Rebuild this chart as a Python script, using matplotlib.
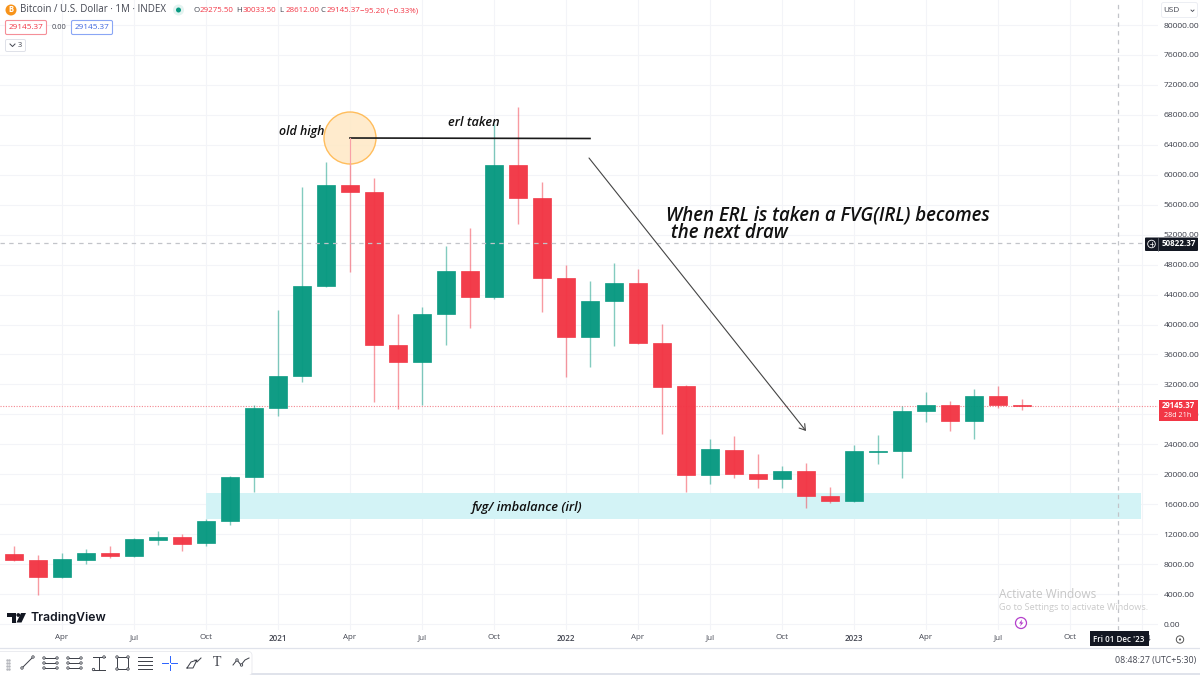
import matplotlib
matplotlib.use("Agg")
import matplotlib.pyplot as plt
from matplotlib.patches import Rectangle, Circle, FancyBboxPatch, Polygon, FancyArrowPatch

# ---------- data (monthly BTCUSD candles, Feb 2020 .. Aug 2023) ----------
months = ["2020-02","2020-03","2020-04","2020-05","2020-06","2020-07","2020-08","2020-09","2020-10","2020-11","2020-12",
          "2021-01","2021-02","2021-03","2021-04","2021-05","2021-06","2021-07","2021-08","2021-09","2021-10","2021-11","2021-12",
          "2022-01","2022-02","2022-03","2022-04","2022-05","2022-06","2022-07","2022-08","2022-09","2022-10","2022-11","2022-12",
          "2023-01","2023-02","2023-03","2023-04","2023-05","2023-06","2023-07","2023-08"]
opens = [9309,8508,6317,8548,9443,9082,11219,11620,10778,13757,19593,
         28889,33083,45143,58673,57698,37223,34993,41404,47107,43714,61264,56937,
         46172,38372,43180,45544,37530,31787,19860,23239,20074,19366,20475,17136,
         16428,23013,23106,28408,29250,27113,30412,29275.5]
closes = [8508,6317,8641,9443,9082,11313,11620,10685,13797,19633,28889,
          33083,45183,58673,57698,37223,34993,41404,47107,43714,61264,56937,46172,
          38372,43180,45544,37530,31694,19860,23333,19994,19366,20475,17096,16428,
          23066,23106,28408,29250,27113,30412,29209,29145.37]
highs = [10458,9216,9443,10017,10418,11486,12461,12060,14024,19807,29209,
         41938,58326,61705,64870,59528,41364,42339,50445,52850,66780,69010,59034,
         47948,45811,48215,47414,40068,31921,24669,25149,22705,21062,21463,18298,
         23867,25243,29156,30986,29824,31387,31828,30033.5]
lows = [8414,3873,6144,8014,8815,8908,10551,9790,10418,13222,17590,
        27821,32362,45050,46973,29610,28755,29250,37303,39534,43367,53464,41631,
        32949,34285,37130,37463,25376,17590,18738,19540,18164,18164,15493,16201,
        16361,21329,19540,26939,25817,24749,28889,28612]

price_ticks = list(range(0, 80001, 4000))
time_tick_index = [2,5,8,11,14,17,20,23,26,29,32,35,38,41,44,47]
time_tick_labels = ["Apr","Jul","Oct","2021","Apr","Jul","Oct","2022","Apr","Jul","Oct","2023","Apr","Jul","Oct","2024"]

last_price = 29145.37
cross_price = 50822.37
cross_index = 46
fvg_top, fvg_bottom = 17500, 14024
fvg_start = 8

GREEN, RED = "#089981", "#f23645"
GRID = "#f3f4f8"
TXT = "#434651"
FONT = "Open Sans"
plt.rcParams["font.family"] = [FONT, "DejaVu Sans"]

W, H = 1200, 675
fig = plt.figure(figsize=(12, 6.75), dpi=100, facecolor="white")
PANE_R, PANE_B = 1158, 630
ax = fig.add_axes([0, 1 - PANE_B / H, PANE_R / W, PANE_B / H])
ax.set_xlim(-14 / 24, (PANE_R - 14) / 24)
ax.set_ylim(-801, 83341)
for s in ax.spines.values():
    s.set_visible(False)
ax.yaxis.tick_right()
ax.set_yticks(price_ticks)
ax.set_yticklabels([f"{p:.2f}" for p in price_ticks], fontsize=6.1, color="#3c3f4a")
ax.set_xticks(time_tick_index)
ax.set_xticklabels(time_tick_labels, fontsize=5.8, color=TXT)
for lab, t in zip(ax.get_xticklabels(), time_tick_labels):
    if t.isdigit():
        lab.set_fontweight("semibold")
ax.tick_params(axis="both", length=0)
ax.tick_params(axis="y", pad=4.0)
ax.tick_params(axis="x", pad=3.0)
ax.grid(True, color=GRID, lw=0.8)
ax.set_axisbelow(True)

# FVG zone
ax.add_patch(Rectangle((fvg_start, fvg_bottom), (1141 - 206) / 24, fvg_top - fvg_bottom,
                       facecolor="#d3f3f6", edgecolor="none", zorder=1))
# current price and crosshair
ax.axhline(last_price, color="#f4868f", lw=0.8, ls=(0, (1, 1.4)), zorder=1.5)
ax.axhline(cross_price, color="#c2c4c9", lw=0.9, ls=(0, (3.5, 3.5)), zorder=5)
ax.axvline(cross_index, color="#c2c4c9", lw=0.9, ls=(0, (3.5, 3.5)), zorder=5)

# candles
for i, (o, c, h, l) in enumerate(zip(opens, closes, highs, lows)):
    col = GREEN if c >= o else RED
    ax.vlines(i, l, h, color=col, lw=1.0, alpha=0.5, zorder=2)
    low, high = min(o, c), max(o, c)
    ax.add_patch(Rectangle((i - 0.375, low), 0.75, max(high - low, 110), facecolor=col,
                           edgecolor=col, lw=0.5, alpha=0.97, zorder=3))

# overlay in pixel coordinates for drawings and interface chrome
ov = fig.add_axes([0, 0, 1, 1], facecolor="none")
ov.set_xlim(0, W)
ov.set_ylim(H, 0)
ov.axis("off")

# drawings
ov.add_patch(Circle((350, 138), 26, facecolor="#ffe9c8", edgecolor="#ffb74d", lw=1.0, alpha=0.9, zorder=2))
ov.plot([350, 590], [138, 138.5], color="#1a1a1a", lw=1.2, zorder=3)
ov.plot([350, 350], [138, 165], color="#f9a0a8", lw=0.8, zorder=3)
ov.add_patch(FancyArrowPatch((589, 158), (806, 431), arrowstyle="->,head_length=2.5,head_width=1.6",
                             color="#444444", lw=0.8, shrinkA=0, shrinkB=0, zorder=3, mutation_scale=1.6))
ANN = dict(family="Open Sans", style="italic", color="#111111", va="center", zorder=4, fontweight="semibold")
ov.text(279, 131, "old high", fontsize=8.9, **ANN)
ov.text(448, 123, "erl taken", fontsize=9.2, **ANN)
ov.text(666, 216, "When ERL is taken a FVG(IRL) becomes", fontsize=13.4, **ANN)
ov.text(666, 233, " the next draw", fontsize=13.4, **ANN)
ov.text(471, 507, "fvg/ imbalance (irl)", fontsize=9.3, **ANN)

# header
ov.add_patch(Circle((11, 10), 5.5, color="#f7931a", lw=0))
ov.text(11, 10, "B", fontsize=5.5, fontweight="bold", color="white", ha="center", va="center")
ov.text(19.5, 10, "Bitcoin / U.S. Dollar · 1M · INDEX", fontsize=7.0, color=TXT, va="center")
ov.add_patch(Circle((178.5, 10), 5.5, color="#e3f3f0", lw=0))
ov.add_patch(Circle((178.5, 10), 2.5, color=GREEN, lw=0))
x = 194
for key, val in [("O", "29275.50"), ("H", "30033.50"), ("L", "28612.00"), ("C", "29145.37")]:
    ov.text(x, 10.5, key, fontsize=5.7, color=TXT, va="center")
    ov.text(x + 6, 10.5, val, fontsize=5.7, color=RED, va="center")
    x += 42.5 if key == "O" else 43 if key == "H" else 41
ov.text(360, 10.5, "−95.20 (−0.33%)", fontsize=5.7, color=RED, va="center")
ov.text(59.5, 27.5, "0.00", fontsize=5.4, color=TXT, ha="center", va="center")
for bx, col in [(5.5, "#f58f98"), (71.5, "#8aa6f5")]:
    ov.add_patch(FancyBboxPatch((bx, 20.5), 41, 14, boxstyle="round,pad=0,rounding_size=1.5",
                                fc="white", ec=col, lw=0.8))
    ov.text(bx + 20.5, 27.8, "29145.37", fontsize=5.9, color=RED if bx < 10 else "#3f68e0",
            ha="center", va="center")
ov.add_patch(FancyBboxPatch((5.5, 39.5), 20, 12, boxstyle="round,pad=0,rounding_size=1.5",
                            fc="white", ec="#dfe1e8", lw=0.7))
ov.plot([10, 12.5, 15], [44, 46.5, 44], color=TXT, lw=0.7)
ov.text(20, 45.5, "3", fontsize=5.4, color=TXT, ha="center", va="center")
ov.add_patch(FancyBboxPatch((1161.5, 2.5), 36, 15, boxstyle="round,pad=0,rounding_size=2",
                            fc="white", ec="#eceef3", lw=0.7))
ov.text(1163.5, 10, "USD", fontsize=5.9, color=TXT, va="center")
ov.plot([1191, 1192.5, 1194], [10, 11.5, 10], color=TXT, lw=0.6)

# logo
ov.add_patch(Polygon([(7, 613), (16, 613), (16, 622.5), (11.5, 622.5), (11.5, 617), (7, 617)], color="#131722", lw=0))
ov.add_patch(Circle((18.3, 615), 1.9, color="#131722", lw=0))
ov.add_patch(Polygon([(21, 613), (26, 613), (21.5, 622.5), (16.5, 622.5)], color="#131722", lw=0))
ov.text(30.5, 618, "TradingView", fontsize=8.8, fontweight="semibold", family="Inter", color="#131722", va="center")

# watermark
ov.text(999, 594, "Activate Windows", fontsize=8.6, color="#c6c6c6", va="center", zorder=6)
ov.text(999, 608, "Go to Settings to activate Windows.", fontsize=6.6, color="#cacaca", va="center", zorder=6)
ov.add_patch(Circle((1021, 623), 5.5, fc="white", ec="#b43fcb", lw=0.9))
ov.add_patch(Polygon([(1022, 619.5), (1019, 623.5), (1021, 623.5), (1020, 626.5), (1023.5, 622.5), (1021.5, 622.5)],
                     color="#b43fcb", lw=0))

# price tags
ov.add_patch(Rectangle((1159, 400), 38.5, 21, color=RED, lw=0, zorder=6))
ov.text(1178, 405.3, "29145.37", fontsize=5.6, fontweight="bold", color="white", ha="center", va="center", zorder=7)
ov.text(1178, 415.5, "28d 21h", fontsize=5.2, color="white", ha="center", va="center", zorder=7)
ov.add_patch(FancyBboxPatch((1145, 237.5), 53, 13.5, boxstyle="round,pad=0,rounding_size=1", color="#131722", lw=0, zorder=6))
ov.plot([1158, 1158], [237.5, 251], color="#7a7d85", lw=0.5, zorder=7)
ov.add_patch(Circle((1151.5, 244), 3.8, fc="none", ec="white", lw=0.6, zorder=7))
ov.plot([1149.7, 1153.3], [244, 244], color="white", lw=0.5, zorder=7)
ov.plot([1151.5, 1151.5], [242.2, 245.8], color="white", lw=0.5, zorder=7)
ov.text(1178.5, 244, "50822.37", fontsize=5.8, fontweight="bold", color="white", ha="center", va="center", zorder=7)
ov.add_patch(Rectangle((1089.5, 631), 59, 15, color="#131722", lw=0, zorder=6))
ov.text(1118.5, 639.5, "Fri 01 Dec '23", fontsize=5.8, fontweight="semibold", color="white", ha="center", va="center", zorder=7)
ov.add_patch(Circle((1180, 639.5), 3.7, fc="white", ec="#555", lw=0.7))
ov.add_patch(Circle((1180, 639.5), 1.1, fc="#555", lw=0))

# bottom bars
ov.plot([0, W], [648, 648], color="#e0e3eb", lw=0.9)
ov.add_patch(Rectangle((0, 672.5), W, 3, color="#e0e3eb", lw=0))
ov.text(1196, 660.5, "08:48:27 (UTC+5:30)", fontsize=6.3, color=TXT, ha="right", va="center")

# toolbar
ov.add_patch(FancyBboxPatch((-4, 651.5), 256, 24, boxstyle="round,pad=0,rounding_size=4", fc="white", ec="#e8e9ee", lw=0.6, zorder=7))
ic = dict(color="#3a3d46", lw=0.7, zorder=8)
ov.scatter([6.5] * 4 + [9] * 4, [660, 663, 666, 669] * 2, s=0.6, color="#b5b7bd", zorder=8)
def dot(x, y):
    ov.add_patch(Circle((x, y), 1.2, fc="white", ec="#3a3d46", lw=0.6, zorder=9))
ov.plot([22, 33], [668, 657], **ic); dot(22, 668); dot(33, 657)
for x0 in (44, 68):
    for y0 in (658, 663, 668):
        ov.plot([x0, x0 + 13], [y0, y0], **ic); dot(x0, y0); dot(x0 + 13, y0)
ov.plot([93, 105], [656.5, 656.5], **ic); ov.plot([93, 105], [669.5, 669.5], **ic); ov.plot([98.5, 98.5], [656.5, 669.5], **ic)
dot(104, 657); dot(93.5, 669.5)
ov.add_patch(Rectangle((117, 657), 11, 12, fc="none", ec="#3a3d46", lw=0.7, zorder=8))
for a, b in [(117, 657), (128, 657), (117, 669), (128, 669)]:
    dot(a, b)
for y0, xe in [(656.5, 152), (660.5, 152), (664.5, 152), (668.5, 152)]:
    ov.plot([138, xe], [y0, y0], **ic)
ov.plot([162, 168], [663, 663], color="#2962ff", lw=0.7, zorder=8); ov.plot([171, 177], [663, 663], color="#2962ff", lw=0.7, zorder=8)
ov.plot([169.5, 169.5], [656, 661.5], color="#2962ff", lw=0.7, zorder=8); ov.plot([169.5, 169.5], [664.5, 670], color="#2962ff", lw=0.7, zorder=8)
ov.plot([187, 191, 197, 193, 187], [668, 662, 660, 668, 668], **ic); ov.plot([195, 197, 201], [660, 662, 658], **ic)
ov.text(217, 663, "T", fontsize=10, color="#3a3d46", ha="center", va="center", family="Liberation Serif", zorder=8)
ov.plot([233, 237, 241, 245, 249], [665, 660, 665, 660, 658], **ic); dot(237, 660); dot(241.5, 665)

fig.savefig("out.png", dpi=100, facecolor="white")
